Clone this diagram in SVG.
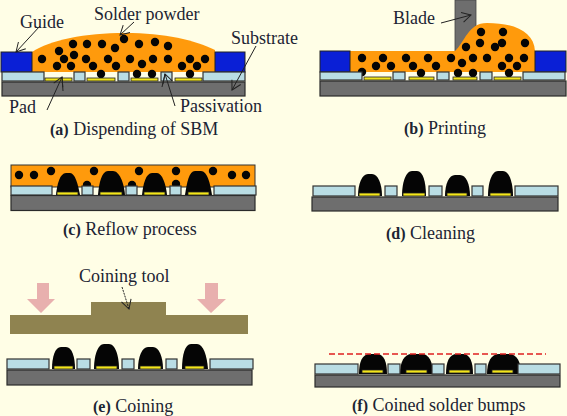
<svg xmlns="http://www.w3.org/2000/svg" width="567" height="416" viewBox="0 0 567 416">
<style>
text{font-family:"Liberation Serif","Times New Roman",serif;font-size:18px;fill:#1c2433}
.b{font-weight:bold;font-size:16px}
.sub{fill:#6e6e6e;stroke:#2a2a2a;stroke-width:1.2}
.pas{fill:#b9dde4;stroke:#333;stroke-width:1.2}
.pad{fill:#f4e61a;stroke:#222;stroke-width:.8}
.gd{fill:#0a1fd6;stroke:#222;stroke-width:1}
.sol{fill:#ff9a0c}
.bump{fill:#050505}
.ld{fill:none;stroke:#222;stroke-width:1}
.tool{fill:#8f8350}
.ar{fill:#e8b0ae}
.dots circle{r:4.200px;fill:#050505}
</style>
<defs><marker id="o" markerUnits="userSpaceOnUse" markerWidth="12" markerHeight="12" refX="10" refY="6" orient="auto"><path d="M1 1L10 6L1 11" fill="none" stroke="#222" stroke-width="1"/></marker></defs>
<rect width="567" height="416" fill="#fffee6"/>

<g id="panel-a">
<path class="sol" d="M32 72V52C50 40 85 33 125 33C165 33 195 40 215 50V72Z"/>
<g class="dots"><circle cx="42" cy="59"/><circle cx="59" cy="51"/><circle cx="57" cy="66"/><circle cx="64" cy="59"/><circle cx="73" cy="44"/><circle cx="74" cy="55"/><circle cx="71" cy="66"/><circle cx="87" cy="44"/><circle cx="86" cy="59"/><circle cx="93" cy="66"/><circle cx="102" cy="44"/><circle cx="108" cy="59"/><circle cx="101" cy="74"/><circle cx="116" cy="66"/><circle cx="115" cy="48"/><circle cx="124" cy="39"/><circle cx="139" cy="44"/><circle cx="130" cy="59"/><circle cx="142" cy="64"/><circle cx="155" cy="42"/><circle cx="168" cy="46"/><circle cx="153" cy="59"/><circle cx="152" cy="74"/><circle cx="137" cy="74"/><circle cx="168" cy="59"/><circle cx="182" cy="66"/><circle cx="190" cy="59"/><circle cx="197" cy="66"/><circle cx="205" cy="59"/><circle cx="190" cy="74"/></g>
<rect class="gd" x="1" y="52" width="31" height="20"/><rect class="gd" x="215" y="52" width="30" height="20"/>
<rect class="sub" x="2" y="82" width="243" height="14"/>
<rect class="pas" x="2" y="72" width="42" height="9"/><rect class="pas" x="74" y="72" width="11" height="9"/><rect class="pas" x="118" y="72" width="11" height="9"/><rect class="pas" x="161" y="72" width="11" height="9"/><rect class="pas" x="203" y="72" width="42" height="9"/>
<rect class="pad" x="45" y="78" width="27" height="3"/><rect class="pad" x="87" y="78" width="28" height="3"/><rect class="pad" x="131" y="78" width="27" height="3"/><rect class="pad" x="175" y="78" width="27" height="3"/>
<text x="20" y="28">Guide</text><text x="94" y="20">Solder powder</text><text x="231" y="44">Substrate</text><text x="9" y="113">Pad</text><text x="180" y="112">Passivation</text>
<text x="50" y="135"><tspan class="b">(a)</tspan> Dispending of SBM</text>
</g>

<g id="panel-b">
<rect x="455" y="0" width="21" height="52" fill="#6e6e6e" stroke="#444" stroke-width=".8"/>
<path class="sol" d="M350 72V51H455C465 42 468 23 487 23C515 23 534 32 535 51V72Z"/>
<g class="dots"><circle cx="362" cy="58"/><circle cx="376" cy="66"/><circle cx="383" cy="58"/><circle cx="391" cy="66"/><circle cx="406" cy="58"/><circle cx="413" cy="66"/><circle cx="421" cy="73"/><circle cx="428" cy="58"/><circle cx="436" cy="66"/><circle cx="451" cy="58"/><circle cx="462" cy="63"/><circle cx="466" cy="47"/><circle cx="481" cy="32"/><circle cx="480" cy="43"/><circle cx="473" cy="58"/><circle cx="473" cy="73"/><circle cx="458" cy="73"/><circle cx="487" cy="58"/><circle cx="495" cy="47"/><circle cx="502" cy="43"/><circle cx="503" cy="32"/><circle cx="525" cy="43"/><circle cx="502" cy="66"/><circle cx="509" cy="58"/><circle cx="517" cy="66"/><circle cx="524" cy="58"/><circle cx="509" cy="73"/><circle cx="362" cy="72"/></g>
<rect class="gd" x="320" y="51" width="30" height="21"/><rect class="gd" x="535" y="51" width="31" height="21"/>
<rect class="sub" x="320" y="81" width="246" height="15"/>
<rect class="pas" x="320" y="72" width="42" height="8"/><rect class="pas" x="393" y="72" width="12" height="8"/><rect class="pas" x="437" y="72" width="12" height="8"/><rect class="pas" x="480" y="72" width="12" height="8"/><rect class="pas" x="523" y="72" width="42" height="8"/>
<rect class="pad" x="364" y="77" width="27" height="3"/><rect class="pad" x="409" y="77" width="25" height="3"/><rect class="pad" x="453" y="77" width="24" height="3"/><rect class="pad" x="494" y="77" width="27" height="3"/>
<text x="393" y="24">Blade</text>
<text x="404" y="134"><tspan class="b">(b)</tspan> Printing</text>
</g>

<g id="panel-c">
<rect class="sol" x="11" y="165" width="244" height="22" stroke="#333" stroke-width="1"/>
<g class="dots"><circle cx="19" cy="175"/><circle cx="34" cy="175"/><circle cx="51" cy="171"/><circle cx="94" cy="171"/><circle cx="139" cy="171"/><circle cx="176" cy="171"/><circle cx="213" cy="171"/><circle cx="232" cy="175"/><circle cx="246" cy="175"/><circle cx="87" cy="185"/><circle cx="132" cy="185"/><circle cx="176" cy="184"/></g>
<path class="bump" d="M56 195C57 184 60 173 66 173H70C75 173 78 184 80 195Z"/><path class="bump" d="M98 195C99 182 102 171 108 171H113C119 171 124 182 125 195Z"/><path class="bump" d="M142 195C143 184 146 173 152 173H157C162 173 166 184 167 195Z"/><path class="bump" d="M185 195C187 182 189 171 195 171H201C207 171 210 182 212 195Z"/>
<rect class="sub" x="11" y="195.500" width="244" height="15"/>
<rect class="pas" x="11" y="186" width="41" height="9"/><rect class="pas" x="82" y="186" width="11" height="9"/><rect class="pas" x="126" y="186" width="11" height="9"/><rect class="pas" x="170" y="186" width="11" height="9"/><rect class="pas" x="214" y="186" width="42" height="9"/>
<rect class="pad" x="57" y="192" width="21" height="3"/><rect class="pad" x="100" y="192" width="22" height="3"/><rect class="pad" x="144" y="192" width="21" height="3"/><rect class="pad" x="188" y="192" width="21" height="3"/>
<text x="63" y="235"><tspan class="b">(c)</tspan> Reflow process</text>
</g>

<g id="panel-d">
<path class="bump" d="M358 196C358 184 362 174 368 174H372C378 174 382 184 382 196Z"/><path class="bump" d="M402 196C402 182 406 171 412 171H417C423 171 426 182 426 196Z"/><path class="bump" d="M445 196C445 184 449 175 455 175H460C466 175 470 184 470 196Z"/><path class="bump" d="M488 196C488 182 492 171 498 171H503C509 171 513 182 513 196Z"/>
<rect class="sub" x="312" y="197" width="246" height="14"/>
<rect class="pas" x="313" y="186" width="42" height="10"/><rect class="pas" x="385" y="186" width="12" height="10"/><rect class="pas" x="429" y="186" width="13" height="10"/><rect class="pas" x="472" y="186" width="11" height="10"/><rect class="pas" x="515" y="186" width="43" height="10"/>
<rect class="pad" x="359" y="193" width="21" height="3"/><rect class="pad" x="403" y="193" width="22" height="3"/><rect class="pad" x="447" y="193" width="20" height="3"/><rect class="pad" x="490" y="193" width="21" height="3"/>
<text x="386" y="239"><tspan class="b">(d)</tspan> Cleaning</text>
</g>

<g id="panel-e">
<path class="tool" d="M10 315H91V302H166V315H248V334H10Z"/>
<path class="ar" d="M37 283H49V299H55L41 313L27 299H37Z"/><path class="ar" d="M205 283H218V299H226L211 313L197 299H205Z"/>
<path class="bump" d="M52 369C52 357 55 347 61 347H66C72 347 75 357 75 369Z"/><path class="bump" d="M94 369C94 355 98 344 104 344H109C115 344 119 355 119 369Z"/><path class="bump" d="M138 369C138 357 142 347 148 347H153C159 347 163 357 163 369Z"/><path class="bump" d="M182 369C182 355 185 344 191 344H197C203 344 207 355 208 369Z"/>
<rect class="sub" x="7" y="370" width="245" height="15"/>
<rect class="pas" x="7" y="359" width="42" height="10"/><rect class="pas" x="77" y="359" width="13" height="10"/><rect class="pas" x="122" y="359" width="12" height="10"/><rect class="pas" x="166" y="359" width="11" height="10"/><rect class="pas" x="210" y="359" width="43" height="10"/>
<rect class="pad" x="54" y="366" width="19" height="3"/><rect class="pad" x="96" y="366" width="21" height="3"/><rect class="pad" x="140" y="366" width="21" height="3"/><rect class="pad" x="185" y="366" width="19" height="3"/>
<text x="79" y="282">Coining tool</text>
<text x="93" y="412"><tspan class="b">(e)</tspan> Coining</text>
</g>

<g id="panel-f">
<path class="bump" d="M359 374C359 362 362 354 370 354H377C384 354 387 362 387 374Z"/><path class="bump" d="M400 374C400 362 404 354 412 354H422C429 354 433 362 433 374Z"/><path class="bump" d="M446 374C446 362 449 354 457 354H463C470 354 473 362 473 374Z"/><path class="bump" d="M487 374C487 362 491 354 499 354H509C517 354 521 362 521 374Z"/>
<rect class="sub" x="315" y="375" width="245" height="12"/>
<rect class="pas" x="315" y="364" width="43" height="10"/><rect class="pas" x="388" y="364" width="12" height="10"/><rect class="pas" x="432" y="364" width="12" height="10"/><rect class="pas" x="475" y="364" width="11" height="10"/><rect class="pas" x="518" y="364" width="42" height="10"/>
<rect class="pad" x="362" y="370" width="21" height="3"/><rect class="pad" x="406" y="370" width="21" height="3"/><rect class="pad" x="449" y="370" width="21" height="3"/><rect class="pad" x="492" y="370" width="21" height="3"/>
<path d="M329 354H546" fill="none" stroke="#e02020" stroke-width="1.400" stroke-dasharray="6 3"/>
<text x="352" y="411"><tspan class="b">(f)</tspan> Coined solder bumps</text>
</g>

<g id="connectors">
<path class="ld" marker-end="url(#o)" d="M40 26L16 52"/>
<path class="ld" marker-end="url(#o)" d="M134 22L120 35"/>
<path class="ld" marker-end="url(#o)" d="M256 46L232 90"/>
<path class="ld" marker-end="url(#o)" d="M47 110L62 77"/>
<path class="ld" d="M62 77L63 91"/>
<path class="ld" marker-end="url(#o)" d="M175 106L165 74"/>
<path class="ld" d="M165 74L162 87"/>
<path class="ld" marker-end="url(#o)" d="M441 23L471 15"/>
<path class="ld" marker-end="url(#o)" stroke-dasharray="2 1" d="M122 287L129 309"/>
</g>
</svg>
